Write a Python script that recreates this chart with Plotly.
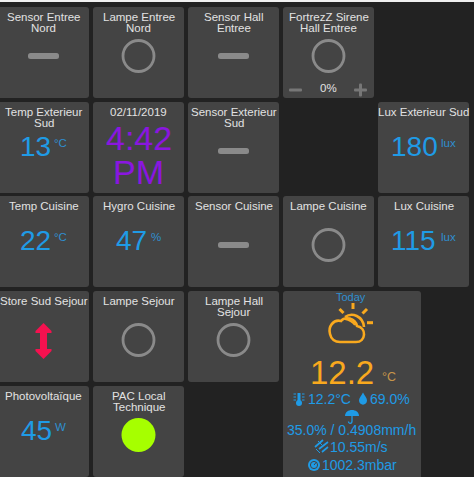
import plotly.graph_objects as go

FONT = "Liberation Sans"
BG = "#222222"
TILE = "#444444"
TITLE_COL = "#e2e2e2"
BLUE = "#1f9be6"
UNIT_BLUE = "#2f8fcf"
ORANGE = "#f9a91e"
GREY = "#8a8a8a"

# dashboard content, in reading order
tile_titles = ["Sensor Entree<br>Nord", "Lampe Entree<br>Nord", "Sensor Hall<br>Entree", "FortrezZ Sirene<br>Hall Entree",
               "Temp Exterieur<br>Sud", "02/11/2019", "Sensor Exterieur<br>Sud", "Lux Exterieur Sud",
               "Temp Cuisine", "Hygro Cuisine", "Sensor Cuisine", "Lampe Cuisine", "Lux Cuisine",
               "Store Sud Sejour", "Lampe Sejour", "Lampe Hall<br>Sejour",
               "Photovoltaïque", "PAC Local<br>Technique"]
tile_kinds = ["dash", "ring", "dash", "ring",
              "value", "clock", "dash", "value",
              "value", "value", "dash", "ring", "value",
              "arrow", "ring", "ring",
              "value", "dot"]
tile_values = ["", "", "", "", "13", "", "", "180", "22", "47", "", "", "115", "", "", "", "45", ""]
tile_units = ["", "", "", "", "°C", "", "", "lux", "°C", "%", "", "", "lux", "", "", "", "W", ""]
tile_rows = [0, 0, 0, 0, 1, 1, 1, 1, 2, 2, 2, 2, 2, 3, 3, 3, 4, 4]
tile_cols = [0, 1, 2, 3, 0, 1, 2, 4, 0, 1, 2, 3, 4, 0, 1, 2, 0, 1]

clock_lines = ["4:42", "PM"]
dimmer_level = "0%"
weather_label = "Today"
weather_temp = "12.2"
weather_temp_unit = "°C"
weather_feel = "12.2°C"
weather_humidity = "69.0%"
weather_rain = "35.0% / 0.4908mm/h"
weather_wind = "10.55m/s"
weather_pressure = "1002.3mbar"

# grid
COL_X = [-2, 93, 188, 283, 378]
ROW_Y = [7, 102, 196, 291, 386]
W = 91
H = 91

fig = go.Figure()
shapes = []
notes = []


def rrect(x0, y0, x1, y1, r):
    return (f"M{x0+r},{y0} L{x1-r},{y0} Q{x1},{y0} {x1},{y0+r} L{x1},{y1-r} Q{x1},{y1} {x1-r},{y1} "
            f"L{x0+r},{y1} Q{x0},{y1} {x0},{y1-r} L{x0},{y0+r} Q{x0},{y0} {x0+r},{y0} Z")


def fill(path, color):
    shapes.append(dict(type="path", path=path, fillcolor=color, line_width=0))


def stroke(path, color, width):
    shapes.append(dict(type="path", path=path, line=dict(color=color, width=width)))


def text(x, y, s, size, color, anchor="center"):
    notes.append(dict(x=x, y=y, text=s, showarrow=False, xanchor=anchor, yanchor="middle",
                      font=dict(family=FONT, size=size, color=color), borderpad=0, borderwidth=0))


def ring(cx, cy, r, color, width):
    shapes.append(dict(type="circle", x0=cx-r, x1=cx+r, y0=cy-r, y1=cy+r, line=dict(color=color, width=width)))


def dot(cx, cy, r, color):
    shapes.append(dict(type="circle", x0=cx-r, x1=cx+r, y0=cy-r, y1=cy+r, fillcolor=color, line_width=0))


# page background and white strip on top
fill("M0,0 L474,0 L474,2 L0,2 Z", "#f0f0f0")

for title, kind, val, unit, row, col in zip(tile_titles, tile_kinds, tile_values, tile_units, tile_rows, tile_cols):
    x0 = COL_X[col]
    y0 = ROW_Y[row]
    cx = x0 + W / 2
    fill(rrect(x0, y0, x0 + W, y0 + H, 3), TILE)
    for i, line in enumerate(title.split("<br>")):
        text(cx, y0 + 9.5 + i * 11.5, line, 11.5, TITLE_COL)
    if kind == "dash":
        fill(rrect(cx - 15.5, y0 + 46, cx + 15.5, y0 + 52, 2.5), GREY)
    elif kind == "ring":
        ring(cx, y0 + 49, 15.5, GREY, 2.8)
    elif kind == "dot":
        dot(cx, y0 + 49, 17, "#a6ff00")
    elif kind == "value":
        digits = len(val) * 0.556 * 28
        unit_w = {"°C": 13, "lux": 14.5, "%": 10, "W": 11}[unit]
        left = cx - (digits + 3.5 + unit_w) / 2
        text(left, y0 + 44.5, val, 28, BLUE, "left")
        text(left + digits + 3.5, y0 + 40.5, unit, 11.5, UNIT_BLUE, "left")
    elif kind == "clock":
        text(cx, y0 + 36, clock_lines[0], 34, "#8a16e0")
        text(cx, y0 + 70, clock_lines[1], 34, "#8a16e0")
    elif kind == "arrow":
        fill(f"M{cx},{y0+32} L{cx+8},{y0+40} L{cx+8},{y0+42} L{cx+3.5},{y0+42} L{cx+3.5},{y0+58} L{cx+8},{y0+58} "
             f"L{cx+8},{y0+60} L{cx},{y0+68} L{cx-8},{y0+60} L{cx-8},{y0+58} L{cx-3.5},{y0+58} L{cx-3.5},{y0+42} "
             f"L{cx-8},{y0+42} L{cx-8},{y0+40} Z", "#f5114f")

# dimmer controls on the siren tile
text(328.5, 88, dimmer_level, 11.5, TITLE_COL)
fill(rrect(289, 88.5, 302, 91.5, 1), "#777777")
fill(rrect(354, 88.5, 367, 91.5, 1), "#777777")
fill(rrect(359, 83.5, 362, 96.5, 1), "#777777")

# weather tile
fill(rrect(283, 291, 421, 480, 3), TILE)
text(351, 297, weather_label, 11, UNIT_BLUE)

# cloud with sun behind it
stroke("M340,342 L356,342 C366,342 367,328 357,326 C355,318 345,316 341,321 "
       "C333,319 328,327 330,334 C331,339 335,342 340,342 Z", ORANGE, 2.6)
stroke("M345,317 C352,312 363,316 364,327", ORANGE, 2.6)
stroke("M345,319 C350,320 352,321 355,325", ORANGE, 2)
stroke("M353,303 L353,309", ORANGE, 3)
stroke("M339.5,309 L343.5,313", ORANGE, 3)
stroke("M367,309 L362.5,313.5", ORANGE, 3)
stroke("M367,322.7 L373,322.7", ORANGE, 3)

text(342, 372.5, weather_temp, 33, ORANGE)
text(382, 376.5, weather_temp_unit, 12.5, "#c6954a", "left")

text(308, 398.7, weather_feel, 14, BLUE, "left")
text(370, 398.7, weather_humidity, 14, BLUE, "left")
text(351, 430, weather_rain, 14, BLUE)
text(330, 447, weather_wind, 14, BLUE, "left")
text(321.5, 465, weather_pressure, 14, BLUE, "left")

# thermometer
stroke("M299,393 L299,403", BLUE, 3)
dot(299, 403, 3, BLUE)
stroke("M293.5,394 L296,394 M293.5,397 L296,397 M293.5,400 L296,400 M302,394 L304.5,394 M302,397 L304.5,397 M302,400 L304.5,400", BLUE, 1)
# droplet
fill("M363,392.5 C365,396 367,398 367,400.5 C367,406 359,406 359,400.5 C359,398 361,396 363,392.5 Z", BLUE)
# umbrella
fill("M345,416 C345,408 359,408 359,416 Z", BLUE)
stroke("M352,411 L352,421 C352,424 348.5,424 348.5,421.5", BLUE, 1.3)
# wind
stroke("M315,447 L323,440 M319,449 L328,442 M322,452 L328,447", BLUE, 1.7)
stroke("M318,441 L322,445 M316,449 L320,453", BLUE, 1)
# gauge
dot(314, 465, 6, BLUE)
ring(314, 465, 3.6, TILE, 1)
stroke("M314,465 L316.5,462", TILE, 1)

fig.add_trace(go.Scatter(x=[0, 474], y=[0, 477], mode="markers", marker=dict(opacity=0), hoverinfo="skip", showlegend=False))

fig.update_layout(width=474, height=477, margin=dict(l=0, r=0, t=0, b=0),
                  paper_bgcolor=BG, plot_bgcolor=BG, shapes=shapes, annotations=notes, showlegend=False,
                  xaxis=dict(range=[0, 474], visible=False, fixedrange=True),
                  yaxis=dict(range=[477, 0], visible=False, fixedrange=True))

fig.write_html("out.html", config={"displayModeBar": False},
               post_script="document.body.style.margin='0';document.body.style.overflow='hidden';")
